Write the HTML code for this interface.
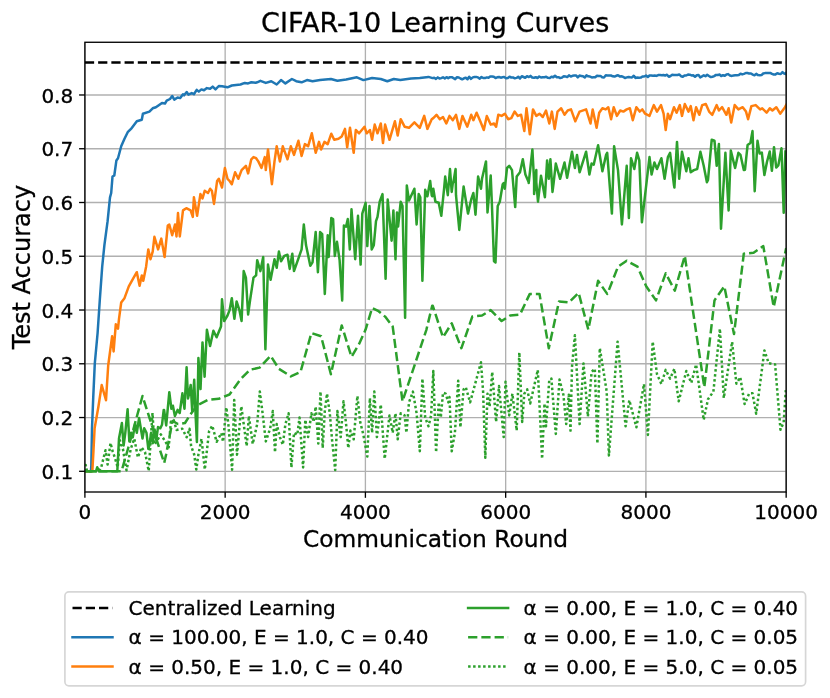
<!DOCTYPE html>
<html lang="en"><head><meta charset="utf-8"><title>CIFAR-10 Learning Curves</title>
<style>html,body{margin:0;padding:0;background:#fff}svg{display:block}</style></head>
<body>
<svg width="830" height="698" viewBox="0 0 830 698" font-family="'DejaVu Sans', 'Liberation Sans', sans-serif" fill="#000">
<style>text{stroke:#000;stroke-width:0.3px}</style>
<rect width="830" height="698" fill="#fff"/>
<defs><clipPath id="ax"><rect x="84.9" y="42.27" width="701.26" height="449.73"/></clipPath></defs>
<g stroke="#b0b0b0" stroke-width="1.33" fill="none">
<path d="M84.90 42.27 V492.0"/>
<path d="M225.15 42.27 V492.0"/>
<path d="M365.40 42.27 V492.0"/>
<path d="M505.66 42.27 V492.0"/>
<path d="M645.91 42.27 V492.0"/>
<path d="M786.16 42.27 V492.0"/>
<path d="M84.9 471.30 H786.16"/>
<path d="M84.9 417.54 H786.16"/>
<path d="M84.9 363.78 H786.16"/>
<path d="M84.9 310.02 H786.16"/>
<path d="M84.9 256.26 H786.16"/>
<path d="M84.9 202.50 H786.16"/>
<path d="M84.9 148.74 H786.16"/>
<path d="M84.9 94.98 H786.16"/>
</g>
<g clip-path="url(#ax)" fill="none" stroke-linejoin="round">
<path d="M84.9 62.5 H786.16" stroke="#000" stroke-width="2.5" stroke-dasharray="9.23 3.995"/>
<path d="M84.9 471.3 L90.9 471.3 L91.3 466.0 L92.0 428.4 L93.3 395.9 L94.8 363.4 L97.6 333.0 L99.8 300.0 L102.2 266.7 L104.4 245.1 L107.6 221.2 L110.0 197.3 L111.2 193.0 L112.5 176.6 L114.3 175.5 L116.4 160.4 L118.0 158.2 L121.2 146.3 L124.5 138.7 L127.7 132.2 L131.0 128.9 L136.8 121.3 L141.8 119.8 L142.9 113.7 L149.4 111.6 L152.7 108.3 L155.9 107.2 L162.0 102.9 L165.0 103.5 L166.7 100.7 L170.0 99.0 L172.2 96.0 L174.3 99.6 L177.6 97.5 L180.2 98.1 L183.0 94.2 L184.1 95.3 L186.7 92.0 L188.4 94.7 L191.7 93.1 L193.9 94.2 L196.7 89.9 L198.8 91.6 L201.4 89.4 L204.0 90.3 L206.9 88.1 L210.1 88.8 L212.7 86.6 L215.5 89.4 L218.8 86.0 L222.0 86.2 L227.5 87.3 L231.8 85.5 L236.1 84.9 L240.5 84.5 L244.8 82.9 L248.1 83.4 L251.3 82.3 L255.7 82.7 L257.2 82.3 L260.4 80.8 L265.8 82.9 L271.3 81.2 L276.7 84.5 L281.0 80.1 L285.4 83.4 L291.9 79.0 L296.2 81.2 L301.6 82.3 L307.0 80.1 L312.5 81.2 L320.1 80.1 L330.9 79.0 L337.4 80.8 L346.1 79.5 L356.9 77.3 L363.4 80.1 L372.1 78.0 L380.8 79.0 L387.3 81.2 L393.8 79.0 L400.3 80.1 L411.1 78.6 L419.8 78.0 L428.5 76.9 L432.5 78.1 L434.2 77.7 L436.0 78.9 L437.8 77.4 L439.5 78.6 L441.2 78.1 L443.0 77.3 L444.8 78.4 L446.5 77.2 L448.2 78.2 L450.0 77.2 L451.8 77.2 L453.5 78.1 L455.2 79.1 L457.0 77.2 L458.8 77.5 L460.5 78.5 L462.2 79.3 L464.0 78.3 L465.8 77.8 L467.5 79.3 L469.2 76.8 L471.0 78.9 L472.8 77.4 L474.5 77.0 L476.2 76.9 L478.0 77.4 L479.8 78.7 L481.5 77.0 L483.2 78.0 L485.0 78.1 L486.8 77.4 L488.5 77.8 L490.2 76.5 L492.0 76.5 L493.8 76.8 L495.5 78.0 L497.2 77.3 L499.0 77.0 L500.8 77.7 L502.5 77.3 L504.2 76.9 L506.0 78.2 L507.8 77.9 L509.5 76.7 L511.2 77.5 L513.0 77.4 L514.8 78.3 L516.5 77.9 L518.2 76.7 L520.0 78.5 L521.8 76.2 L523.5 77.0 L525.2 77.8 L527.0 76.2 L528.8 77.1 L530.5 75.9 L532.2 77.5 L534.0 77.8 L535.8 77.2 L537.5 78.0 L539.2 76.5 L541.0 77.5 L542.8 77.2 L544.5 77.2 L546.2 76.8 L548.0 77.8 L549.8 78.0 L551.5 76.8 L553.2 77.3 L555.0 75.7 L556.8 77.3 L558.5 77.2 L560.2 78.1 L562.0 77.6 L563.8 76.2 L565.5 76.4 L567.2 77.1 L569.0 75.4 L570.8 76.5 L572.5 75.8 L574.2 75.6 L576.0 75.4 L577.8 77.3 L579.5 75.6 L581.2 75.9 L583.0 76.2 L584.8 77.5 L586.5 75.4 L588.2 76.3 L590.0 76.6 L591.8 77.4 L593.5 77.2 L595.2 77.3 L597.0 75.8 L598.8 76.1 L600.5 75.9 L602.2 77.3 L604.0 77.5 L605.8 75.3 L607.5 75.4 L609.2 75.5 L611.0 75.5 L612.8 76.3 L614.5 76.6 L616.2 75.8 L618.0 75.2 L619.8 76.4 L621.5 76.3 L623.2 76.9 L625.0 78.0 L626.8 77.4 L628.5 77.0 L630.2 77.3 L632.0 77.4 L633.8 75.8 L635.5 77.9 L637.2 77.6 L639.0 77.8 L640.8 77.6 L642.5 76.5 L644.2 76.5 L646.0 75.6 L647.8 77.0 L649.5 75.5 L651.2 75.4 L653.0 75.7 L654.8 75.5 L656.5 75.9 L658.2 75.1 L660.0 74.9 L661.8 75.2 L663.5 75.0 L665.2 75.6 L667.0 74.7 L668.8 76.8 L670.5 76.0 L672.2 74.8 L674.0 74.9 L675.8 75.1 L677.5 75.1 L679.2 74.4 L681.0 76.2 L682.8 76.7 L684.5 75.4 L686.2 75.5 L688.0 74.6 L689.8 74.7 L691.5 75.4 L693.2 75.3 L695.0 76.8 L696.8 75.2 L698.5 74.9 L700.2 77.4 L702.0 76.4 L703.8 75.3 L705.5 76.2 L707.2 74.8 L709.0 76.0 L710.8 77.1 L712.5 76.7 L714.2 76.1 L716.0 74.9 L717.8 75.1 L719.5 74.5 L721.2 76.0 L723.0 75.2 L724.8 75.8 L726.5 74.5 L728.2 74.1 L730.0 75.6 L731.8 75.9 L733.5 75.5 L735.2 75.3 L737.0 75.3 L738.8 75.0 L740.5 73.7 L742.2 74.4 L744.0 73.9 L745.8 73.0 L747.5 73.0 L749.2 73.6 L751.0 73.5 L752.8 74.6 L754.5 75.3 L756.2 73.9 L758.0 75.1 L759.8 75.2 L761.5 75.1 L763.2 73.5 L765.0 73.1 L766.8 73.1 L768.5 73.0 L770.2 72.9 L772.0 73.9 L773.8 74.6 L775.5 74.4 L777.2 73.3 L779.0 73.7 L780.8 74.0 L782.5 72.1 L784.2 73.5 L786.0 74.1 L786.2 73.0" stroke="#1f77b4" stroke-width="2.5" stroke-linecap="square"/>
<path d="M84.9 471.3 L92.0 471.3 L92.4 470.1 L93.5 450.1 L94.6 428.4 L98.4 406.7 L101.7 385.1 L106.0 400.2 L108.2 365.5 L112.1 336.3 L113.6 351.4 L115.8 324.3 L118.0 328.7 L119.0 318.8 L121.2 302.5 L124.5 298.2 L128.8 286.3 L133.1 278.7 L136.8 272.2 L139.6 285.8 L141.8 275.4 L143.3 280.8 L146.1 266.7 L148.3 249.4 L150.5 259.2 L152.7 251.6 L154.4 236.8 L158.1 249.4 L161.3 238.6 L164.6 257.0 L167.8 225.5 L169.3 224.5 L172.2 235.3 L175.0 224.5 L176.5 236.4 L178.0 213.0 L179.8 236.4 L183.0 210.4 L186.3 208.2 L190.6 210.4 L192.8 216.9 L193.9 197.3 L197.1 215.8 L200.4 194.1 L202.5 198.4 L204.7 190.8 L208.0 193.0 L210.1 188.7 L211.9 190.8 L214.0 203.9 L217.1 181.1 L218.8 178.8 L222.0 187.5 L224.9 168.0 L227.5 178.8 L229.6 181.0 L231.8 184.2 L235.1 172.3 L238.3 178.8 L241.6 170.1 L245.9 165.8 L248.1 173.4 L251.3 159.3 L253.5 157.1 L256.1 158.2 L258.3 161.4 L261.5 168.0 L264.8 157.1 L265.8 170.1 L268.0 149.5 L271.9 184.2 L274.5 161.4 L276.7 146.3 L279.9 161.4 L282.8 146.3 L287.5 159.3 L290.8 146.3 L294.0 154.9 L298.4 140.8 L301.6 156.0 L304.9 144.1 L308.1 146.3 L311.8 133.3 L315.7 152.8 L319.0 141.9 L321.1 149.5 L324.4 141.9 L327.7 144.1 L331.3 133.7 L334.2 139.8 L338.5 138.7 L341.7 136.5 L345.0 128.9 L347.2 147.3 L350.0 127.8 L353.7 152.8 L355.8 130.0 L359.1 133.3 L364.5 126.7 L366.7 133.3 L369.9 130.0 L372.1 139.8 L374.7 124.6 L377.5 133.3 L380.8 123.5 L383.0 143.0 L385.1 124.6 L389.5 139.8 L394.9 121.3 L397.7 135.4 L400.7 119.2 L404.6 126.7 L409.0 127.8 L414.4 122.4 L419.8 127.8 L424.2 115.9 L427.4 128.9 L431.7 119.2 L433.3 118.1 L436.5 114.8 L439.8 119.2 L443.0 117.0 L446.3 123.5 L449.5 115.9 L452.8 120.2 L456.0 114.8 L459.3 128.9 L462.5 115.9 L467.3 126.7 L471.2 114.8 L473.4 120.2 L476.6 112.7 L480.3 121.3 L483.8 130.0 L486.8 115.9 L490.7 124.6 L494.0 123.5 L496.1 126.7 L498.3 114.8 L501.6 115.9 L504.8 113.7 L508.1 119.2 L511.3 118.1 L514.6 111.6 L517.8 115.9 L521.1 114.8 L524.3 131.1 L526.5 108.3 L529.8 134.3 L533.0 109.4 L536.3 115.9 L539.5 113.7 L542.8 117.0 L546.0 110.5 L549.3 123.5 L551.9 111.6 L554.7 128.9 L557.5 111.6 L561.2 108.3 L564.5 114.8 L567.7 110.5 L571.0 109.4 L575.3 121.3 L579.6 111.6 L586.1 109.4 L590.5 123.5 L592.7 109.4 L596.6 127.8 L599.2 112.7 L602.4 108.3 L605.7 109.4 L608.3 107.2 L611.1 119.2 L613.7 107.2 L616.9 115.9 L620.2 110.5 L623.4 111.6 L626.7 109.4 L629.9 108.3 L632.8 120.2 L636.4 107.2 L639.7 111.6 L642.3 109.4 L645.1 113.7 L649.5 115.9 L653.8 105.1 L657.0 111.6 L661.0 105.1 L663.6 113.7 L665.7 130.0 L667.9 113.7 L670.1 119.2 L674.0 107.2 L676.6 112.7 L679.8 105.1 L682.0 115.9 L684.8 104.0 L688.5 111.6 L690.7 106.1 L693.5 120.2 L696.1 107.2 L699.3 114.8 L702.2 105.1 L705.8 104.0 L709.1 111.6 L712.3 114.8 L716.7 105.1 L718.9 110.5 L722.1 107.2 L726.4 114.8 L728.6 108.3 L731.2 122.4 L734.7 105.1 L738.4 109.4 L742.7 107.2 L746.0 111.6 L748.1 119.2 L751.4 106.1 L755.7 105.1 L760.1 109.4 L762.2 108.3 L766.6 112.7 L769.8 108.3 L772.4 110.5 L776.3 107.2 L780.2 113.7 L785.0 107.2 L786.2 105.0" stroke="#ff7f0e" stroke-width="2.5" stroke-linecap="square"/>
<path d="M84.9 471.3 L96.0 471.3 L97.2 467.3 L99.2 471.3 L117.3 471.3 L119.0 438.6 L121.9 423.1 L123.6 445.5 L125.3 432.8 L127.6 409.3 L129.3 440.9 L131.1 432.8 L132.8 437.4 L135.1 423.7 L136.8 432.8 L139.1 417.9 L140.8 428.3 L142.5 438.6 L144.2 428.3 L146.5 432.8 L148.3 448.9 L149.4 445.5 L151.1 432.8 L152.8 443.2 L154.6 429.4 L156.3 439.7 L158.0 427.1 L160.3 428.3 L162.0 424.8 L163.7 409.9 L164.1 409.9 L166.2 425.4 L169.3 392.2 L171.4 408.8 L172.9 405.7 L174.9 416.1 L177.6 409.9 L179.7 413.0 L182.4 393.3 L184.5 408.8 L186.6 367.3 L188.0 398.5 L189.5 392.2 L190.7 385.0 L192.2 410.9 L194.2 379.8 L195.7 417.1 L196.9 442.0 L198.4 358.0 L200.5 389.1 L202.5 342.4 L204.6 376.7 L206.9 329.8 L210.1 346.0 L213.4 330.8 L216.6 337.3 L221.0 326.5 L222.0 299.3 L224.2 321.0 L227.5 315.5 L229.6 310.1 L231.8 298.2 L234.4 318.8 L236.6 301.4 L239.4 310.1 L241.6 321.0 L243.7 271.1 L245.9 277.6 L248.1 314.5 L250.2 299.3 L253.5 277.6 L256.1 275.4 L257.2 260.2 L260.4 271.1 L263.2 257.0 L265.4 349.3 L268.0 264.6 L270.6 279.8 L274.5 259.2 L276.7 267.8 L278.9 251.6 L281.0 261.3 L284.3 255.9 L287.5 254.8 L289.7 268.9 L292.3 253.7 L294.0 271.1 L301.6 249.4 L303.8 224.5 L306.0 245.1 L310.3 265.7 L312.5 262.4 L315.7 232.0 L317.9 272.2 L320.1 232.0 L322.2 234.2 L324.8 293.9 L327.7 235.3 L328.7 257.0 L331.3 218.0 L333.1 219.0 L334.8 255.9 L337.0 241.8 L339.6 260.2 L342.2 300.4 L343.9 225.5 L346.1 226.6 L347.8 219.0 L349.8 249.4 L351.5 209.3 L355.2 259.2 L358.0 215.8 L360.6 264.6 L362.3 213.6 L365.6 202.8 L367.3 246.1 L369.5 206.0 L371.7 249.4 L373.8 245.1 L376.0 221.2 L377.5 216.9 L379.7 201.7 L382.5 194.1 L385.6 278.7 L387.7 199.5 L391.6 240.7 L393.4 210.4 L395.5 259.2 L397.0 212.5 L398.1 226.6 L400.7 201.7 L402.5 206.0 L405.1 317.7 L406.8 185.4 L409.0 200.6 L414.4 188.7 L416.6 224.5 L418.7 194.1 L420.3 197.3 L422.4 280.8 L425.2 189.8 L427.4 196.3 L430.2 181.1 L431.7 195.2 L432.2 196.3 L433.3 188.7 L435.4 201.7 L438.7 202.8 L441.3 215.8 L444.1 188.7 L445.2 176.6 L447.8 195.2 L450.0 169.0 L451.7 191.9 L452.8 183.1 L453.4 182.2 L455.6 169.0 L456.0 195.2 L459.3 229.9 L463.6 186.5 L468.0 213.6 L471.2 199.5 L473.4 193.0 L475.5 214.7 L478.1 176.6 L481.0 188.7 L482.0 178.8 L486.0 161.4 L487.5 212.5 L490.7 175.5 L491.8 201.7 L494.0 261.3 L495.5 262.4 L497.7 206.0 L499.8 201.7 L502.7 184.3 L503.7 183.1 L504.8 188.7 L507.0 168.0 L509.2 165.8 L512.0 170.1 L515.2 207.1 L516.7 176.6 L520.0 172.3 L522.8 159.3 L525.4 174.5 L528.7 182.2 L528.7 183.1 L532.4 149.5 L534.1 181.0 L534.1 194.1 L536.3 170.1 L536.3 182.2 L538.0 201.7 L541.0 175.7 L544.9 197.3 L547.1 160.4 L548.8 178.8 L550.4 159.3 L552.5 191.9 L553.6 183.1 L555.8 163.6 L560.1 178.8 L564.5 162.5 L567.1 177.7 L572.0 151.7 L574.9 168.0 L577.0 154.9 L579.6 172.3 L586.1 151.7 L589.4 174.5 L591.6 163.6 L593.7 164.7 L598.1 145.2 L602.4 171.2 L606.1 154.9 L607.2 152.8 L611.9 213.6 L614.1 146.3 L618.0 170.1 L621.9 224.5 L626.7 165.8 L628.9 218.0 L631.0 158.2 L634.3 169.0 L637.1 152.8 L639.3 160.4 L641.9 222.3 L649.5 157.1 L651.6 174.5 L654.4 162.5 L657.0 169.0 L661.4 158.2 L664.6 178.8 L667.9 157.1 L670.1 152.8 L674.0 185.3 L674.4 187.6 L677.0 141.9 L679.2 178.8 L682.0 151.7 L686.3 171.2 L688.5 158.2 L690.7 172.3 L693.9 170.1 L697.2 169.0 L700.4 151.7 L703.7 165.8 L706.9 182.2 L708.0 179.9 L711.7 139.8 L714.5 140.8 L716.7 165.8 L718.9 144.1 L721.0 228.8 L725.4 152.8 L728.6 210.4 L730.8 150.6 L735.1 168.0 L738.4 152.8 L740.5 154.9 L743.8 170.1 L745.0 169.7 L747.6 145.0 L750.4 142.9 L752.5 131.1 L754.7 191.2 L757.5 140.7 L759.6 153.6 L761.8 152.5 L764.4 175.1 L766.9 162.2 L769.7 151.5 L771.9 170.8 L774.0 147.2 L776.2 167.6 L778.3 165.4 L781.5 148.3 L783.7 212.7 L785.4 151.5" stroke="#2ca02c" stroke-width="2.5" stroke-linecap="square"/>
<path d="M84.9 471.3 L121.5 471.3 L128.5 447.0 L135.5 421.5 L142.5 396.0 L149.7 418.5 L157.0 441.0 L164.2 463.0 L166.0 455.0 L169.3 437.5 L172.5 421.0 L178.0 424.0 L185.0 423.0 L190.0 415.0 L197.3 405.3 L208.0 399.9 L218.8 398.8 L229.5 394.5 L240.3 379.5 L249.9 369.8 L259.6 367.6 L261.5 365.5 L270.6 355.8 L278.9 368.8 L290.8 376.4 L300.5 372.0 L311.4 333.0 L321.1 336.3 L330.9 374.2 L341.7 325.4 L351.5 356.9 L359.1 343.9 L365.6 329.6 L372.1 308.0 L378.6 311.2 L385.1 316.6 L392.7 326.5 L402.5 401.3 L426.3 330.1 L432.2 305.8 L432.8 305.8 L443.0 337.3 L451.7 323.3 L461.4 348.2 L472.3 316.6 L482.0 315.5 L490.7 310.1 L501.6 321.0 L510.2 315.5 L520.0 314.5 L529.8 293.9 L539.5 293.9 L548.8 348.2 L559.0 301.4 L568.8 302.5 L578.6 292.8 L588.3 329.6 L598.1 280.8 L607.2 293.9 L607.8 292.8 L618.0 266.7 L626.7 260.7 L637.5 266.7 L646.2 286.3 L656.0 300.4 L665.7 273.3 L674.8 290.6 L684.8 255.9 L704.3 387.2 L714.5 300.4 L724.3 286.3 L734.0 334.1 L743.8 253.7 L753.6 252.7 L763.3 246.1 L773.7 306.9 L786.2 248.0" stroke="#2ca02c" stroke-width="2.5" stroke-dasharray="9.25 4"/>
<path d="M84.9 471.3 L85.7 465.0 L87.0 471.3 L99.0 471.3 L101.2 467.4 L105.5 450.2 L107.6 464.5 L110.5 443.0 L112.7 451.6 L114.8 457.4 L117.7 467.4 L119.8 440.2 L122.9 448.8 L126.5 470.3 L130.8 448.8 L134.3 438.7 L137.9 457.4 L141.5 447.3 L145.0 452.0 L148.7 471.0 L152.5 413.0 L154.4 444.5 L157.5 440.0 L160.8 434.4 L165.0 441.0 L168.7 447.3 L170.9 421.5 L173.7 420.1 L176.6 430.0 L182.3 428.7 L186.6 437.3 L189.5 428.7 L191.1 446.0 L194.2 454.5 L196.3 469.5 L198.4 454.5 L201.5 438.9 L204.8 469.5 L206.7 452.4 L209.1 431.1 L212.3 425.7 L216.6 441.8 L221.3 433.2 L223.1 441.8 L226.3 407.4 L228.4 424.6 L232.1 469.8 L234.2 399.9 L237.0 454.7 L241.3 406.3 L246.7 446.1 L248.9 416.0 L252.7 444.0 L257.2 424.1 L259.8 391.6 L262.6 413.3 L265.8 441.4 L270.2 428.4 L272.8 411.1 L275.0 452.3 L276.7 424.1 L279.9 437.1 L282.8 444.7 L285.4 424.1 L288.6 413.3 L291.4 467.5 L294.0 432.8 L297.3 434.9 L299.5 417.6 L303.1 467.5 L305.3 419.8 L308.1 437.1 L311.4 413.3 L313.6 421.9 L315.7 406.7 L318.3 443.6 L320.5 391.6 L322.7 448.0 L324.8 411.1 L327.0 393.7 L329.8 413.3 L332.0 439.3 L335.2 470.1 L337.4 411.1 L340.7 437.1 L343.5 401.3 L346.1 424.1 L348.3 448.0 L350.4 430.6 L353.7 439.3 L357.4 395.9 L360.2 421.9 L363.4 434.9 L367.3 456.6 L369.9 398.1 L372.1 432.8 L374.3 391.6 L376.9 437.1 L380.8 404.6 L384.7 458.8 L389.5 415.4 L392.7 432.8 L395.5 413.3 L397.7 439.3 L400.7 413.3 L404.6 415.4 L406.4 432.8 L409.0 402.4 L412.9 391.6 L416.6 413.3 L419.8 451.2 L422.4 378.6 L425.2 417.6 L428.5 426.3 L431.1 415.4 L433.3 371.0 L436.1 452.3 L438.7 402.4 L440.8 417.6 L443.0 392.7 L445.6 393.7 L448.4 402.4 L449.5 397.0 L451.7 451.2 L454.9 432.8 L458.2 380.7 L460.4 427.3 L463.6 389.4 L465.8 387.2 L470.1 402.4 L481.0 362.3 L483.1 391.6 L485.3 457.7 L487.5 393.7 L489.6 406.7 L492.2 372.0 L496.1 421.9 L499.0 386.1 L503.7 437.1 L505.5 381.8 L509.2 415.4 L512.4 393.7 L516.7 430.6 L519.3 352.5 L522.2 421.9 L524.3 393.7 L527.2 389.4 L530.2 403.5 L537.8 369.9 L542.1 458.8 L544.5 403.5 L546.0 426.3 L549.3 379.6 L551.4 378.6 L555.8 433.9 L559.5 379.6 L563.4 394.8 L566.2 424.1 L568.8 394.8 L570.5 430.6 L572.0 366.6 L574.9 335.2 L579.6 424.1 L583.5 363.4 L587.9 416.5 L591.6 372.0 L594.8 368.8 L597.4 443.6 L599.8 348.2 L603.5 371.0 L606.7 391.6 L608.9 455.5 L617.6 341.7 L625.6 426.3 L629.3 400.2 L636.4 427.3 L644.0 384.0 L647.9 434.9 L652.7 341.7 L657.0 374.2 L661.4 384.0 L665.7 369.9 L670.1 378.6 L674.4 368.8 L678.7 401.3 L686.3 371.0 L691.3 382.9 L696.1 364.5 L703.7 419.8 L708.0 399.2 L713.4 391.6 L719.9 328.7 L723.8 398.1 L732.1 341.8 L736.4 383.7 L740.3 377.2 L744.6 404.1 L749.3 393.3 L752.5 393.3 L756.2 413.7 L764.4 350.4 L768.7 363.3 L775.1 364.4 L780.5 429.8 L783.7 422.3 L785.8 390.1" stroke="#2ca02c" stroke-width="2.5" stroke-dasharray="2.5 2.5"/>
</g>
<rect x="84.9" y="42.27" width="701.26" height="449.73" fill="none" stroke="#000" stroke-width="1.33"/>
<g stroke="#000" stroke-width="1.33">
<path d="M84.90 492.0 v5.83"/>
<path d="M225.15 492.0 v5.83"/>
<path d="M365.40 492.0 v5.83"/>
<path d="M505.66 492.0 v5.83"/>
<path d="M645.91 492.0 v5.83"/>
<path d="M786.16 492.0 v5.83"/>
<path d="M84.9 471.30 h-5.83"/>
<path d="M84.9 417.54 h-5.83"/>
<path d="M84.9 363.78 h-5.83"/>
<path d="M84.9 310.02 h-5.83"/>
<path d="M84.9 256.26 h-5.83"/>
<path d="M84.9 202.50 h-5.83"/>
<path d="M84.9 148.74 h-5.83"/>
<path d="M84.9 94.98 h-5.83"/>
</g>
<g font-size="20" text-anchor="middle">
<text x="84.90" y="518.6">0</text>
<text x="225.15" y="518.6">2000</text>
<text x="365.40" y="518.6">4000</text>
<text x="505.66" y="518.6">6000</text>
<text x="645.91" y="518.6">8000</text>
<text x="786.16" y="518.6">10000</text>
</g>
<g font-size="20" text-anchor="end">
<text x="73.2" y="478.90">0.1</text>
<text x="73.2" y="425.14">0.2</text>
<text x="73.2" y="371.38">0.3</text>
<text x="73.2" y="317.62">0.4</text>
<text x="73.2" y="263.86">0.5</text>
<text x="73.2" y="210.10">0.6</text>
<text x="73.2" y="156.34">0.7</text>
<text x="73.2" y="102.58">0.8</text>
</g>
<text x="435.2" y="32" font-size="27" text-anchor="middle">CIFAR-10 Learning Curves</text>
<text x="435.5" y="547" font-size="23.33" text-anchor="middle">Communication Round</text>
<text transform="translate(29.8,267.1) rotate(-90)" font-size="24" text-anchor="middle">Test Accuracy</text>
<rect x="64.9" y="591.9" width="740.7" height="93.9" rx="4" ry="4" fill="#fff" stroke="#d6d6d6" stroke-width="1.67"/>
<g font-size="20">
<path d="M72.5 608 h40" stroke="#000" stroke-width="2.5" fill="none" stroke-dasharray="9.25 4"/>
<text x="128.6" y="614.70">Centralized Learning</text>
<path d="M72.5 637.3 h40" stroke="#1f77b4" stroke-width="2.5" fill="none" stroke-linecap="square"/>
<text x="128.6" y="644.35">α = 100.00, E = 1.0, C = 0.40</text>
<path d="M72.5 666.6 h40" stroke="#ff7f0e" stroke-width="2.5" fill="none" stroke-linecap="square"/>
<text x="128.6" y="673.70">α = 0.50, E = 1.0, C = 0.40</text>
<path d="M468.1 608 h40" stroke="#2ca02c" stroke-width="2.5" fill="none" stroke-linecap="square"/>
<text x="523.6" y="614.70">α = 0.00, E = 1.0, C = 0.40</text>
<path d="M468.1 637.3 h40" stroke="#2ca02c" stroke-width="2.5" fill="none" stroke-dasharray="9.25 4"/>
<text x="523.6" y="644.35">α = 0.00, E = 1.0, C = 0.05</text>
<path d="M468.1 666.6 h40" stroke="#2ca02c" stroke-width="2.5" fill="none" stroke-dasharray="2.5 2.5"/>
<text x="523.6" y="673.70">α = 0.00, E = 5.0, C = 0.05</text>
</g>
</svg>
</body></html>
